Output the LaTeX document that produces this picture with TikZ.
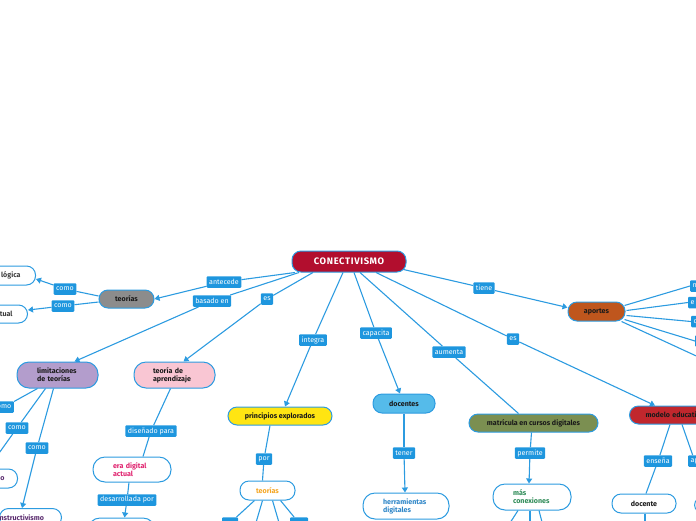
\documentclass[tikz,border=0pt]{standalone}
\usepackage{fontspec}
\setmainfont{Fira Sans}
\usetikzlibrary{arrows.meta,backgrounds,calc}
\definecolor{lineblue}{HTML}{2C9BE0}
\definecolor{lblblue}{HTML}{1E96DE}
\definecolor{cred}{HTML}{B20E2E}
\definecolor{cgray}{HTML}{8C8C8C}
\definecolor{cpurple}{HTML}{B39DCC}
\definecolor{cpink}{HTML}{F9C6D3}
\definecolor{cyellow}{HTML}{FFE512}
\definecolor{clight}{HTML}{55BBEA}
\definecolor{colive}{HTML}{7B8F51}
\definecolor{cmodel}{HTML}{C1272D}
\definecolor{corange}{HTML}{BF561D}
\definecolor{tdark}{HTML}{1A1A1A}
\definecolor{tgray}{HTML}{3C3C3C}
\definecolor{tmag}{HTML}{E0226E}
\definecolor{tor}{HTML}{F5A623}
\definecolor{tblue}{HTML}{2E86C8}
\definecolor{tgreen}{HTML}{2E8B57}
\definecolor{tpur}{HTML}{5B2C6F}
\tikzset{
  box/.style={draw=lineblue, line width=1pt, rounded corners=9pt, inner sep=0pt, fill=white,
    text=tdark, font=\bfseries\fontsize{7.1}{8}\selectfont},
  tall/.style={minimum height=26pt, rounded corners=12pt, align=left},
  lbl/.style={fill=lblblue, text=white, rounded corners=1pt, inner xsep=2.5pt, inner ysep=0pt,
    minimum height=11.5pt, font=\fontsize{7.1}{8}\selectfont},
  con/.style={draw=lineblue, line width=1.1pt},
  arr/.style={con, -{Triangle[length=5pt,width=6pt]}}
}
\begin{document}
\begin{tikzpicture}[x=1pt,y=-1pt]
\useasboundingbox (0,0) rectangle (696,520);
% main nodes
\node[box, fill=cred, text=white, minimum width=114pt, minimum height=21pt,
  font=\bfseries\fontsize{9.4}{10}\selectfont\addfontfeature{LetterSpace=7}] (conect) at (349,261.5) {CONECTIVISMO};
\node[box, fill=cgray, minimum width=55pt, minimum height=18pt] (teo1) at (126.5,299) {teorías};
\node[box, text=tgray, text width=50pt, align=right, inner xsep=15pt, minimum height=19pt, anchor=east] (logica) at (36,275.5) {lógica};
\node[box, text=tgray, text width=50pt, align=right, inner xsep=15pt, minimum height=18pt, anchor=east] (tual) at (28,314) {tual};
\node[box, tall, fill=cpurple, minimum width=81pt, text width=41pt] (lim) at (57.5,375) {limitaciones\\de teorías};
\node[box, tall, fill=cpink, minimum width=81pt, text width=43pt] (aprend) at (174.5,375) {teoría de\\aprendizaje};
\node[box, fill=cyellow, minimum width=104pt, minimum height=18pt] (princ) at (280,416) {principios explorados};
\node[box, fill=clight, minimum width=62pt, minimum height=19pt] (docs) at (404,403.5) {docentes};
\node[box, fill=colive, minimum width=129pt, minimum height=18pt] (matr) at (533.5,423) {matrícula en cursos digitales};
\node[box, fill=cmodel, minimum height=18pt, text width=80pt, align=left, inner xsep=16pt, anchor=west] (modelo) at (629,415) {modelo educati};
\node[box, fill=corange, minimum width=57pt, minimum height=19pt] (aportes) at (596.5,311.5) {aportes};
\node[box, tall, text=tmag, minimum width=78pt, minimum height=25pt, text width=38pt] (era) at (132,469.5) {era digital\\actual};
\node[box, tall, minimum width=67pt] (dnode) at (121.5,531) {};
\node[box, text=tor, minimum width=55pt, minimum height=19pt] (teo2) at (267.5,490.5) {teorías};
\node[box, tall, text=tblue, minimum width=86pt, text width=46pt] (herr) at (406,506) {herramientas\\digitales};
\node[box, tall, text=tgreen, minimum width=78pt, text width=38pt] (mas) at (532,497) {más\\conexiones};
\node[box, minimum width=64pt, minimum height=19pt] (docente) at (644,503.5) {docente};
\node[box, minimum width=40pt, minimum height=17pt, anchor=west] (rnode) at (694,505) {};
\node[box, text=tpur, text width=50pt, align=right, inner xsep=13pt, minimum height=19pt, anchor=east] (onode) at (18,478.5) {o};
\node[box, text=tpur, minimum height=18pt, text width=62pt, align=left, inner xsep=0pt, anchor=north east] (constr) at (62,508) {nstructivismo};
% labels
\node[lbl] (l1) at (65,289) {como};
\node[lbl] (l2) at (63,306) {como};
\node[lbl] (lante) at (224,282) {antecede};
\node[lbl] (lbas) at (212,301) {basado en};
\node[lbl] (les1) at (267,299) {es};
\node[lbl] (lint) at (313,340) {integra};
\node[lbl] (lcap) at (376,333) {capacita};
\node[lbl] (laum) at (449,352) {aumenta};
\node[lbl] (les2) at (513,339) {es};
\node[lbl] (ltiene) at (484,288) {tiene};
\node[lbl, anchor=east] (l3) at (14,407) {omo};
\node[lbl] (l4) at (17,428) {como};
\node[lbl] (l5) at (37,448) {como};
\node[lbl] (ldis) at (151,431) {diseñado para};
\node[lbl] (ldes) at (127,500) {desarrollada por};
\node[lbl] (lpor) at (264,459) {por};
\node[lbl] (lten) at (404,453) {tener};
\node[lbl] (lper) at (530,453) {permite};
\node[lbl] (lens) at (658,461) {enseña};
\node[lbl, anchor=west] (lap) at (688,461) {ap};
\node[lbl, minimum width=16pt] (lb1) at (230,523) {};
\node[lbl, minimum width=18pt] (lb2) at (299,523) {};
\node[lbl, anchor=west] (lr1) at (690,286) {n};
\node[lbl, anchor=west] (lr2) at (688,302.5) {e};
\node[lbl, anchor=west] (lr3) at (691,321.5) {c};
\node[lbl, anchor=west, minimum width=14pt] (lr4) at (695,341) {};
% free ends
\coordinate (offA) at (-30,423);
\coordinate (b2) at (255,526);
\coordinate (b3) at (280,526);
\coordinate (m1) at (508,526);
\coordinate (m2) at (530,526);
\coordinate (m3) at (543,526);
\coordinate (dd) at (645,526);
\coordinate (apend) at (712,490);
\coordinate (r5) at (705,360);
\begin{scope}[on background layer]
\draw[con] ([xshift=-54pt]conect.south) -- (lante);
\draw[arr] (lante) -- (teo1.east);
\draw[con] ([xshift=-50pt]conect.south) -- (lbas);
\draw[arr] (lbas) -- ([xshift=17pt]lim.north);
\draw[con] ([xshift=-36pt]conect.south) -- (les1);
\draw[arr] (les1) -- ([xshift=9pt]aprend.north);
\draw[con] ([xshift=-6pt]conect.south) -- (lint);
\draw[arr] (lint) -- ([xshift=5pt]princ.north);
\draw[con] ([xshift=5pt]conect.south) -- (lcap);
\draw[arr] (lcap) -- ([xshift=-4pt]docs.north);
\draw[con] ([xshift=11pt]conect.south) -- (laum);
\draw[con] (laum) -- ([xshift=-15pt]matr.north);
\draw[con] ([xshift=27pt]conect.south) -- (les2);
\draw[arr] (les2) -- ([xshift=26pt]modelo.north west);
\draw[con] ([xshift=-3pt,yshift=-8pt]conect.east) -- (ltiene);
\draw[arr] (ltiene) -- ([yshift=4pt]aportes.west);
\draw[con] ([yshift=3pt]teo1.west) -- (l1);
\draw[arr] (l1) -- ([yshift=-3.5pt]logica.east);
\draw[con] ([yshift=-3pt]teo1.west) -- (l2);
\draw[arr] (l2) -- ([yshift=4pt]tual.east);
\draw[con] ([xshift=-20pt]lim.south) -- (l3);
\draw[arr] (l3) -- (offA);
\draw[con] ([xshift=-12pt]lim.south) -- (l4);
\draw[arr] (l4) -- ([xshift=-30pt]onode.north east);
\draw[con] ([xshift=-4pt]lim.south) -- (l5);
\draw[arr] (l5) -- ([xshift=-40pt]constr.north east);
\draw[con] ([xshift=-4pt]aprend.south) -- (ldis);
\draw[con] (ldis) -- ([xshift=11pt]era.north);
\draw[con] ([xshift=-3pt]era.south) -- (ldes);
\draw[arr] (ldes) -- ([xshift=3pt]dnode.north);
\draw[con] ([xshift=-10pt]princ.south) -- (lpor);
\draw[con] (lpor) -- ([xshift=-5pt]teo2.north);
\draw[con] ([xshift=-13pt]teo2.south) -- (lb1);
\draw[con] ([xshift=-5pt]teo2.south) -- (b2);
\draw[con] ([xshift=5pt]teo2.south) -- (b3);
\draw[con] ([xshift=13pt]teo2.south) -- (lb2);
\draw[con] (docs.south) -- (lten);
\draw[arr] (lten) -- ([xshift=-1pt]herr.north);
\draw[con] ([xshift=-2pt]matr.south) -- (lper);
\draw[arr] (lper) -- ([xshift=-3pt]mas.north);
\draw[con] ([xshift=-14pt]mas.south) -- (m1);
\draw[con] ([xshift=-2pt]mas.south) -- (m2);
\draw[con] ([xshift=7pt]mas.south) -- (m3);
\draw[con] ([xshift=41pt]modelo.south west) -- (lens);
\draw[con] (lens) -- ([xshift=2pt]docente.north);
\draw[con] ([xshift=53pt]modelo.south west) -- (lap);
\draw[con] (lap) -- (apend);
\draw[con] ([xshift=1pt]docente.south) -- (dd);
\draw[con] ([xshift=-1pt,yshift=6pt]aportes.east) -- (lr1.west);
\draw[con] ([xshift=1pt,yshift=1pt]aportes.east) -- (lr2.west);
\draw[con] ([xshift=1pt,yshift=-4pt]aportes.east) -- (lr3.west);
\draw[con] ([xshift=-1pt,yshift=-8pt]aportes.east) -- (lr4.west);
\draw[con] ([xshift=-4pt,yshift=-10pt]aportes.east) -- (r5);
\end{scope}
\end{tikzpicture}
\end{document}
